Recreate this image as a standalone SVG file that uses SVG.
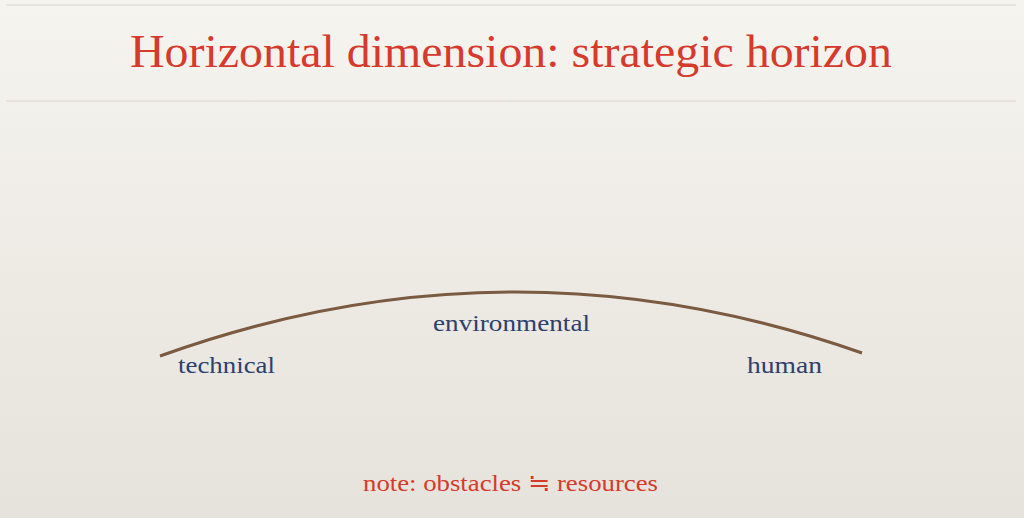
<svg xmlns="http://www.w3.org/2000/svg" width="1024" height="518" viewBox="0 0 1024 518">
<defs>
<linearGradient id="bg" x1="0" y1="0" x2="0" y2="1">
<stop offset="0" stop-color="#f6f4ef"/>
<stop offset="1" stop-color="#e6e2dc"/>
</linearGradient>
<style>
.t{font-family:"Liberation Serif",serif;}
.blue{fill:#2e3f6c;font-size:24px;}
.red{fill:#d63a2c;}
.rule{stroke:#d8d4ce;stroke-width:1;}
</style>
</defs>
<rect width="1024" height="518" fill="url(#bg)"/>
<line class="rule" x1="6" y1="5" x2="1016" y2="5"/>
<line class="rule" x1="6" y1="101" x2="1016" y2="101"/>
<text class="t red" x="130" y="67" font-size="46" textLength="762" lengthAdjust="spacingAndGlyphs">Horizontal dimension: strategic horizon</text>
<g id="connectors">
<path d="M160 356 Q511 229.5 862 353" fill="none" stroke="#7a5a40" stroke-width="3"/>
</g>
<g id="environmental"><text class="t blue" x="433" y="331" textLength="157" lengthAdjust="spacingAndGlyphs">environmental</text></g>
<g id="technical"><text class="t blue" x="178" y="373" textLength="97" lengthAdjust="spacingAndGlyphs">technical</text></g>
<g id="human"><text class="t blue" x="747" y="373" textLength="75" lengthAdjust="spacingAndGlyphs">human</text></g>
<text class="t red" x="363" y="491" font-size="24" textLength="295" lengthAdjust="spacingAndGlyphs">note: obstacles ≒ resources</text>
</svg>
